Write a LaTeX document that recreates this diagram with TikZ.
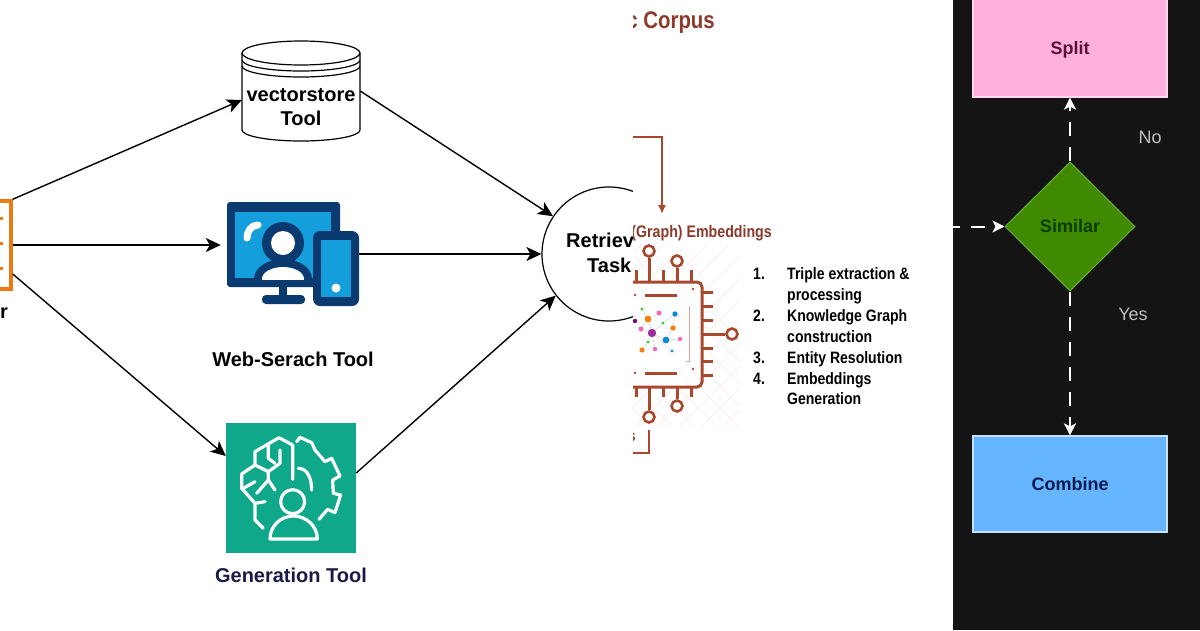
\documentclass[tikz,border=0pt]{standalone}
\usepackage{fontspec}
\setmainfont{Liberation Sans}
\newfontfamily\narrowfont[FakeStretch=0.85]{Liberation Sans}
\usetikzlibrary{positioning}
\usetikzlibrary{arrows.meta}
\usetikzlibrary{shapes.geometric}
\definecolor{navy}{HTML}{0A3A70}
\definecolor{skyblue}{HTML}{149FDC}
\definecolor{teal2}{HTML}{0FA88A}
\definecolor{rust}{HTML}{A8492F}
\definecolor{corpus}{HTML}{8C3A2B}
\definecolor{hatch}{HTML}{FBF0ED}
\definecolor{dark}{HTML}{141414}
\definecolor{userorange}{HTML}{EC7A12}
\definecolor{splitfill}{HTML}{FFB0DC}
\definecolor{splitline}{HTML}{FFD8EC}
\definecolor{splittext}{HTML}{5A1038}
\definecolor{simfill}{HTML}{3F8A00}
\definecolor{simline}{HTML}{6DB040}
\definecolor{simtext}{HTML}{0C3D00}
\definecolor{combfill}{HTML}{66B5FF}
\definecolor{combline}{HTML}{C8E0FF}
\definecolor{combtext}{HTML}{0A1A50}
\tikzset{>={Stealth[length=15pt,width=14pt,inset=4pt]}}
\tikzset{ed/.style={->,line width=1.4pt}}
\tikzset{flow/.style={->,white,line width=2pt,dash pattern=on 14pt off 11pt,>={Stealth[length=12pt,width=12pt,inset=3pt]}}}
\tikzset{tool/.style={font=\fontsize{20}{24}\selectfont\bfseries,align=center,inner sep=0pt}}
\tikzset{flowbox/.style={draw,line width=1.2pt,minimum width=194pt,inner sep=0pt,text depth=0pt,font=\fontsize{18}{22}\selectfont\bfseries}}
\tikzset{side/.style={font=\fontsize{18}{22}\selectfont,text=black!25,inner sep=0pt}}
\tikzset{pin/.style={rust,line width=3pt}}
\tikzset{pad/.style={draw=rust,line width=2.6pt,circle,fill=white,minimum size=11pt,inner sep=0pt}}
\tikzset{item/.style={anchor=west,inner sep=0pt,text height=12pt,text depth=3pt,font=\fontsize{16.5}{20}\selectfont\narrowfont\bfseries}}
\tikzset{gline/.style={white,line width=3.2pt,line cap=round,line join=round}}
\begin{document}
\begin{tikzpicture}[x=1pt,y=-1pt]
    \useasboundingbox (0,0) rectangle (1200,630);

    % left diagram
    \node (user) [draw=userorange,line width=3.5pt,minimum width=42pt,minimum height=88pt,inner sep=0pt] at (-10,245) {};
    \foreach \y in {218,243,268} \fill[userorange] (0,\y-1.5) rectangle (3,\y+1.5);
    \node (userlab) [tool,anchor=east] at (8,313) {r};

    \node (vect) [tool,minimum width=118pt,minimum height=100pt] at (301,91) {};
    \draw[line width=1.2pt,fill=white] (242,53) -- (242,130) arc[start angle=180,end angle=0,x radius=59,y radius=11] -- (360,53);
    \draw[line width=1.2pt] (301,53) ellipse[x radius=59,y radius=12];
    \draw[line width=1.2pt] (242,60) arc[start angle=180,end angle=0,x radius=59,y radius=11];
    \draw[line width=1.2pt] (242,66) arc[start angle=180,end angle=0,x radius=59,y radius=11];
    \node (vectlab) [tool] at (301,107.5) {vectorstore\\Tool};

    \node (webtool) [minimum width=133pt,minimum height=104pt,inner sep=0pt] at (292.5,254) {};
    \fill[navy,rounded corners=3pt] (227,202) rectangle (340,287);
    \fill[skyblue] (235,212) rectangle (331,278);
    \fill[navy] (279,287) rectangle (287,297);
    \fill[navy,rounded corners=4pt] (262,295) rectangle (305,304);
    \begin{scope}
        \clip (227,202) rectangle (340,279);
        \fill[navy] (283,279) ellipse[x radius=29,y radius=20];
        \fill[white] (283,279) ellipse[x radius=21,y radius=12];
    \end{scope}
    \fill[navy] (283,243) circle[radius=21];
    \fill[white] (283,243) circle[radius=12];
    \draw[white,line width=7pt,line cap=round] (247,238) to[out=north,in=west] (258,225);
    \fill[navy,rounded corners=7pt] (313,231) rectangle (359,306);
    \fill[skyblue] (321,240) rectangle (351,297);
    \fill[white] (336,288) circle[radius=4.5];
    \node (weblab) [tool] at (293,359) {Web-Serach Tool};

    \node (gentool) [fill=teal2,minimum size=130pt,inner sep=0pt] at (291,488) {};
    \begin{scope}[shift={(200,400)},x=0.3333pt,y=-0.3333pt]
        \draw[gline] (290,125) -- (300,112) -- (335,128) -- (345,150) -- (375,185) -- (395,175) -- (420,228) -- (398,240) -- (400,280) -- (422,285) -- (405,338) -- (383,328) -- (357,358);
        \draw[gline] (278,238) -- (278,135) -- (237,113) -- (165,155) -- (165,195) -- (125,222) -- (125,265) -- (165,310) -- (165,360) -- (190,385);
        \draw[gline] (205,135) -- (205,175) -- (225,190);
        \draw[gline] (240,150) -- (240,190) -- (205,215) -- (205,240) -- (170,280);
        \draw[gline] (165,195) -- (205,215);
        \draw[gline] (130,265) -- (165,245);
        \draw[gline] (205,240) -- (225,270);
        \draw[gline] (165,310) -- (195,305);
        \draw[gline] (295,205) to[out=east,in=north] (335,270);
        \draw[gline] (278,305) circle[radius=36];
        \draw[gline] (210,417) to[out=north,in=west] (280,348) to[out=east,in=north] (352,417) -- cycle;
    \end{scope}
    \node (genlab) [tool,text=black!80!blue!90!white] at (291,575) {Generation Tool};

    \node (retr) [draw,circle,line width=1.2pt,minimum size=134pt,inner sep=0pt] at (609,254) {};
    \node (retrlab) [tool,anchor=west] at (566,240) {Retriev};
    \node (tasklab) [tool,anchor=west] at (587,265) {Task};

    \draw[ed] (user.north east) -- ([yshift=-9pt]vect.west);
    \draw[ed] (user.east) -- ([xshift=-5pt]webtool.west |- user.east);
    \draw[ed] ([yshift=-29pt]user.east) -- ([yshift=32pt]gentool.west);
    \draw[ed] (vect.east) -- (retr.146);
    \draw[ed] (webtool.east) -- (retr.west);
    \draw[ed] ([yshift=15pt]gentool.east) -- (retr.218);

    % middle panel
    \fill[white] (633,0) rectangle (953,630);
    \begin{scope}
        \clip (633,0) rectangle (953,630);
        \node (title) [anchor=east,inner sep=0pt,text=corpus,font=\fontsize{24}{28}\selectfont\narrowfont\bfseries] at (715,23) {c Corpus};
        \node (embed) [anchor=east,inner sep=0pt,text=corpus,font=\fontsize{16.7}{20}\selectfont\narrowfont\bfseries] at (772,233) {(Graph) Embeddings};
        \coordinate (brtop) at (620,137);
        \coordinate (brtopend) at (662,213);
        \draw[->,rust,line width=1.8pt,>={Stealth[length=8pt,width=7pt,inset=0pt]}] (brtop) -| (brtopend);
        \coordinate (brbot) at (620,453);
        \coordinate (brbotend) at (649,430);
        \draw[rust,line width=1.8pt] (brbot) -| (brbotend);
        \node (tail) [anchor=east,inner sep=0pt,text=corpus,font=\fontsize{16}{20}\selectfont\narrowfont\bfseries] at (636,437) {s};

        % hatching behind the chip
        \begin{scope}
            \clip (633,245) rectangle (740,425);
            \foreach \k in {0,22,...,360} {
                \draw[hatch,line width=1pt] (600,200+\k) -- ++(200,200);
                \draw[hatch,line width=1pt] (600,420+\k-200) -- ++(200,-200);
            }
        \end{scope}

        \node (chip) [draw=rust,line width=3pt,rounded corners=5pt,fill=white,minimum width=92pt,minimum height=105pt,inner sep=0pt] at (656,334.5) {};
        \foreach \x in {636,663,691} {
            \draw[pin] (\x,270) -- (\x,282);
        }
        \foreach \x in {636,663,691} {
            \draw[pin] (\x,387) -- (\x,397);
        }
        \foreach \y in {292,306,320,348,361,375} {
            \draw[pin] (702,\y) -- (713,\y);
        }
        \node (padtl) [pad] at (649,251) {};
        \node (padtr) [pad] at (677,261) {};
        \node (padbl) [pad] at (649,417) {};
        \node (padbr) [pad] at (677,406) {};
        \node (padr) [pad] at (732,334) {};
        \draw[pin] (padtl) -- (649,282);
        \draw[pin] (padtr) -- (677,282);
        \draw[pin] (padbl) -- (649,387);
        \draw[pin] (padbr) -- (677,387);
        \draw[pin] (padr) -- (702,334);
        \draw[pin] (645,295) -- (677,295);
        \draw[pin] (645,373) -- (677,373);
        \fill[rust] (635,295) circle[radius=1.4];
        \fill[rust] (635,373) circle[radius=1.4];
        \fill[rust] (693,289) circle[radius=1.4];
        \fill[rust] (693,369) circle[radius=1.4];
        \draw[rust!50,line width=0.5pt] (689,306) -- (689,361) -- (686,361);

        % small graph on the chip
        \foreach \name/\x/\y/\c/\r in {
            a/642/309/green!60!gray/1.6, b/659/313/magenta!60!white/2.5, c/675/314/cyan!70!blue/2.7,
            d/648/319/orange!80!brown/3.4, e/663/323/green!60!gray/1.7, f/673/328/orange!80!brown/2.7,
            g/635/321/violet/2.2, h/641/329/magenta!60!white/2.5, i/652/333/violet!80!white/4.2,
            j/666/340/cyan!70!blue/3.4, k/680/339/magenta!60!white/2.2, l/648/342/green!60!gray/1.6,
            m/642/350/orange!80!brown/2.6, n/655/349/magenta!60!white/2.2, o/672/351/cyan!70!blue/1.7} {
            \node (g\name) [circle,fill=\c,minimum size=2*\r pt,inner sep=0pt] at (\x,\y) {};
        }
        \begin{scope}[on background layer/.try]
        \foreach \from/\to in {d/i,d/b,d/a,d/h,i/e,e/c,c/f,i/j,j/k,j/f,i/o,i/n,i/l,l/m,h/i} {
            \draw[gray!40,line width=0.4pt] (g\from) -- (g\to);
        }
        \end{scope}

        % list
        \foreach \y/\num in {274.5/1.,316.5/2.,358.5/3.,379.5/4.} {
            \node (n\num) [item] at (753,\y) {\num};
        }
        \foreach \y/\txt in {274.5/Triple extraction \&,295.5/processing,316.5/Knowledge Graph,337.5/construction,358.5/Entity Resolution,379.5/Embeddings,399.5/Generation} {
            \node [item] at (787,\y) {\txt};
        }
    \end{scope}

    % dark panel
    \fill[dark] (953,0) rectangle (1200,630);
    \node (split) [flowbox,draw=splitline,fill=splitfill,text=splittext,minimum height=98pt] at (1070,48) {Split};
    \node (similar) [diamond,draw=simline,line width=1pt,fill=simfill,text=simtext,minimum width=130pt,minimum height=129pt,inner sep=0pt,font=\fontsize{18}{22}\selectfont\bfseries] at (1070,226.5) {Similar};
    \node (combine) [flowbox,draw=combline,fill=combfill,text=combtext,minimum height=96pt] at (1070,484) {Combine};
    \coordinate (incoming) at (953,226.5);

    \draw[flow] (similar) -- (split);
    \draw[flow] (similar) -- (combine);
    \draw[flow,dash phase=7pt] (incoming) -- (similar);

    \node (no) [side] at (1150,137) {No};
    \node (yes) [side] at (1133,314) {Yes};
\end{tikzpicture}
\end{document}
